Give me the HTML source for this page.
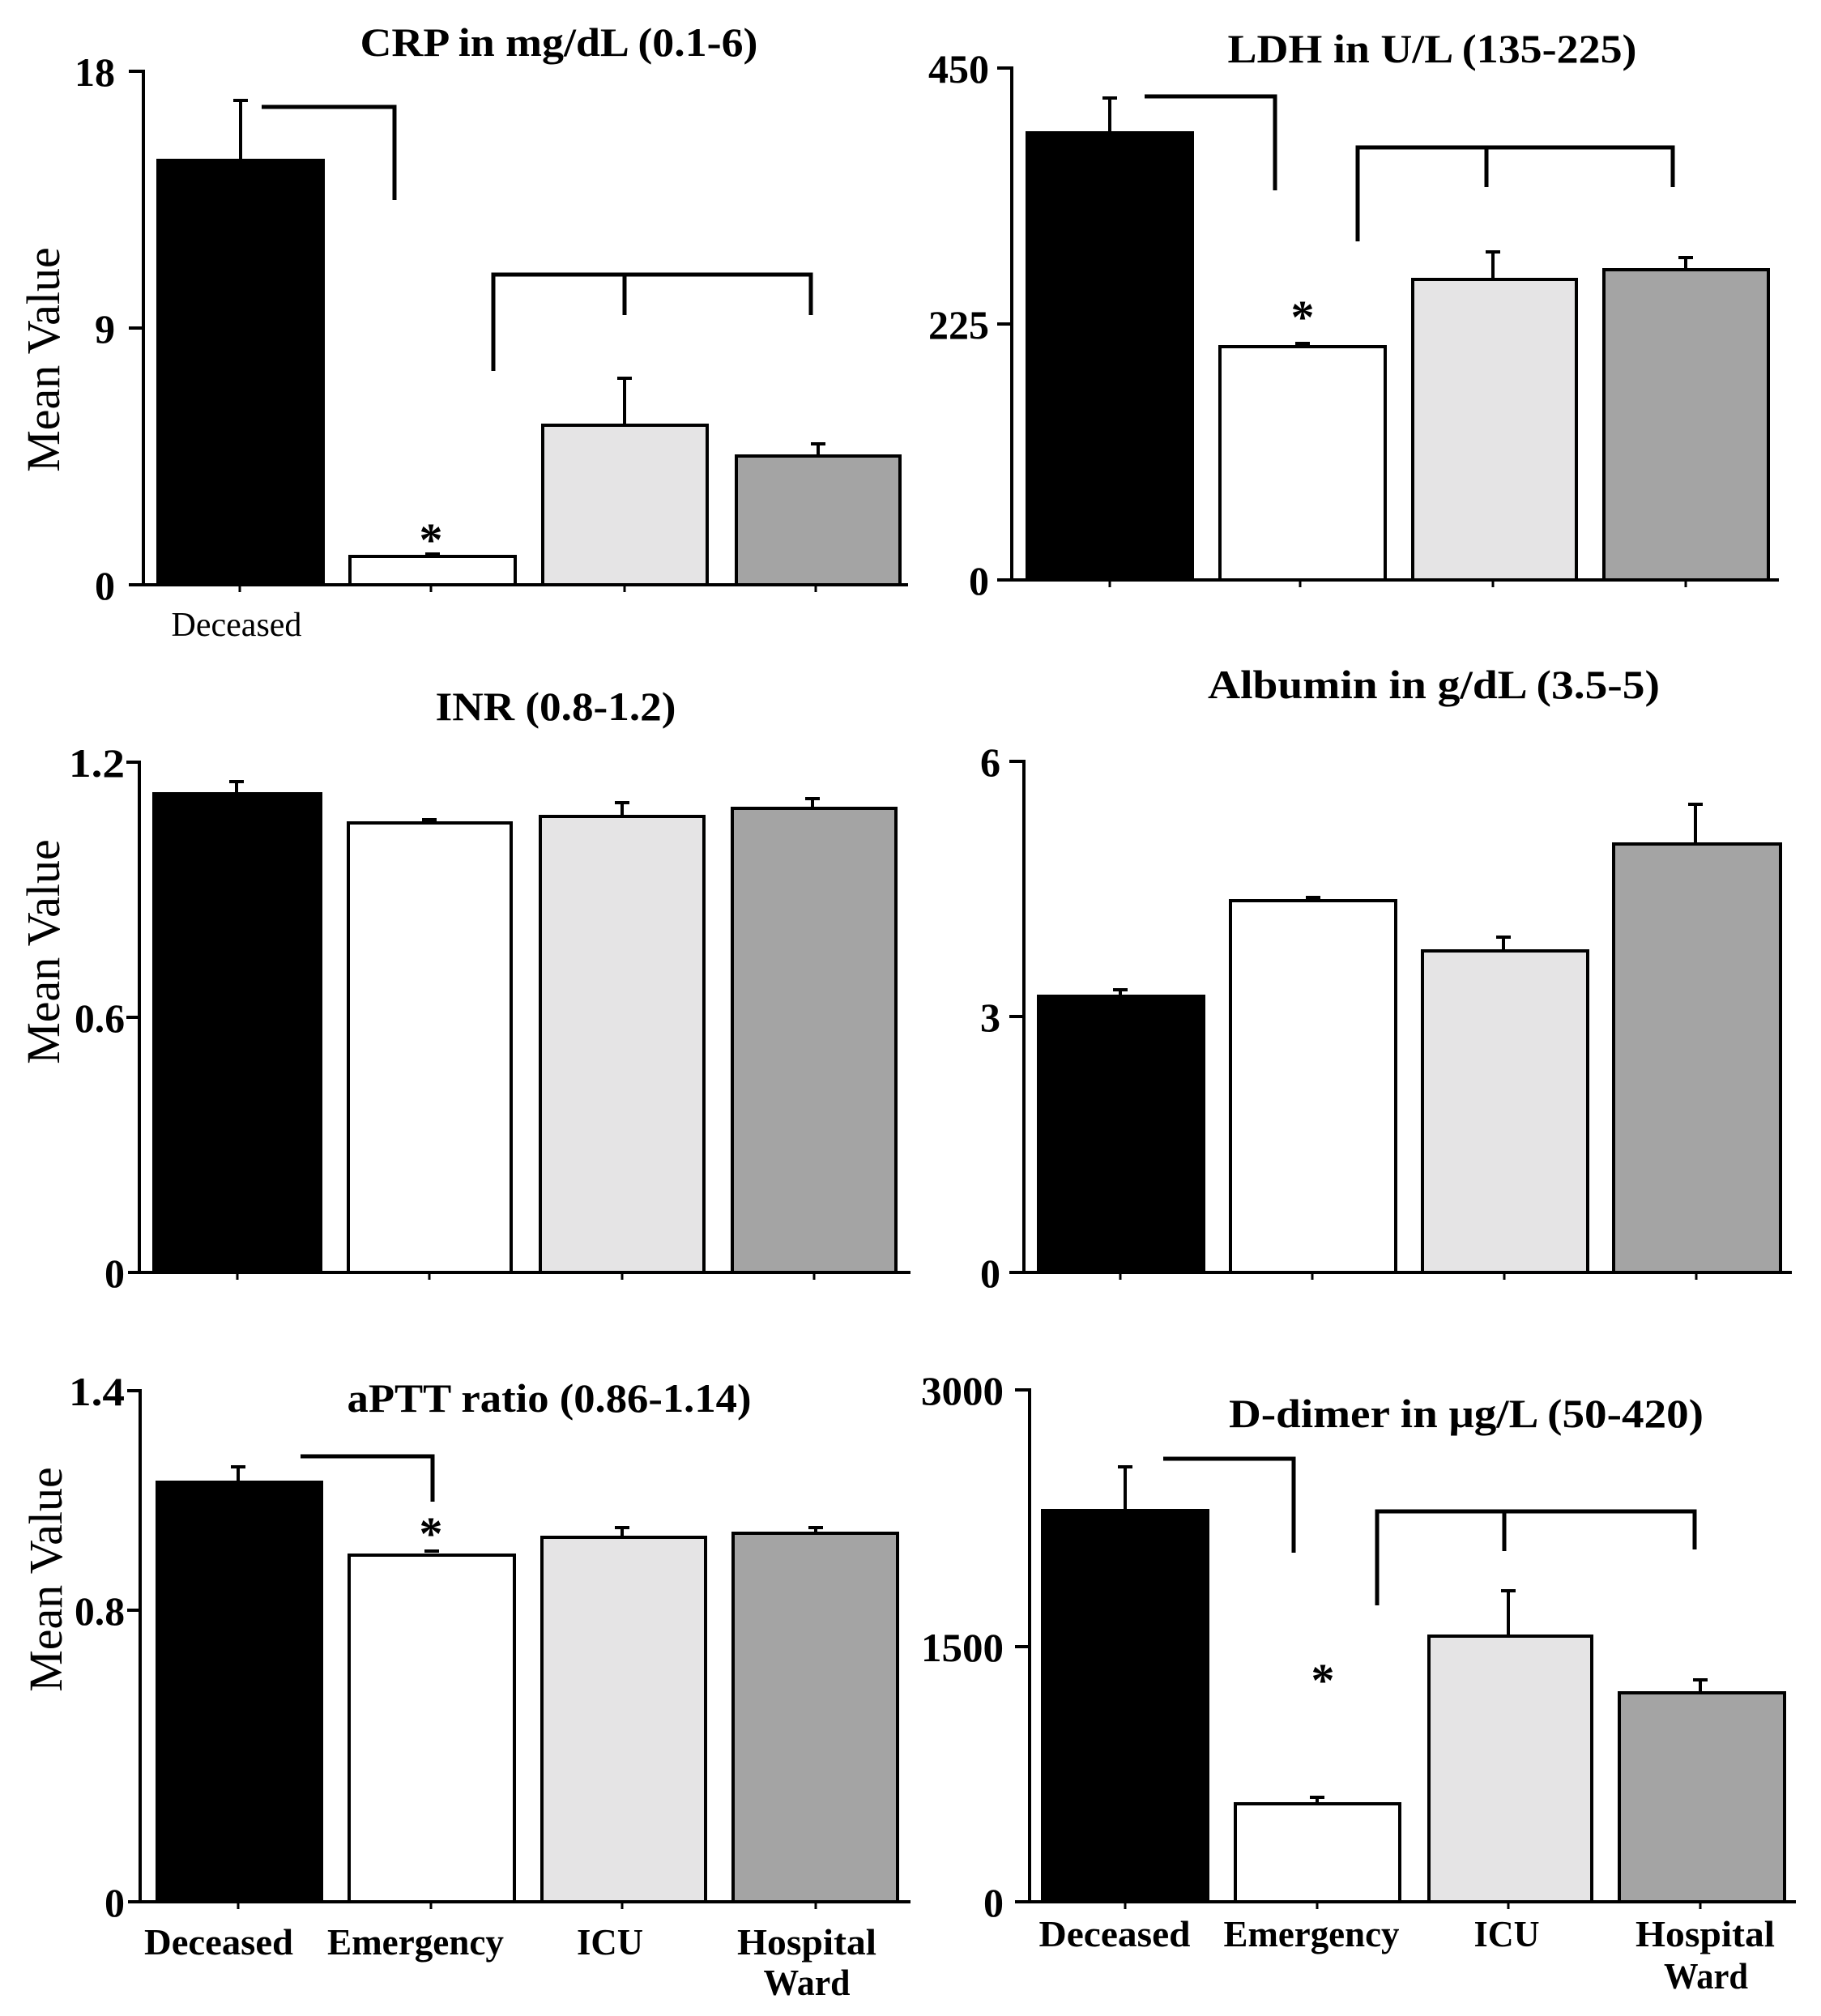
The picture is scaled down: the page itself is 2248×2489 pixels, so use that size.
<!DOCTYPE html>
<html>
<head>
<meta charset="utf-8">
<style>
html,body{margin:0;padding:0;background:#fff;}
svg{display:block;}
text{font-family:"Liberation Serif","DejaVu Serif",serif;fill:#000;}
.t{font-weight:bold;font-size:50px;}
.tk{font-weight:bold;font-size:50px;}
.xl{font-weight:bold;font-size:46px;}
.mv{font-size:58px;}
.ast{font-weight:bold;font-size:58px;}
</style>
</head>
<body>
<svg width="2248" height="2489" viewBox="0 0 2248 2489" xmlns="http://www.w3.org/2000/svg">
<rect width="2248" height="2489" fill="#fff"/>
<g stroke="#000" stroke-linecap="butt" fill="none">

<!-- ============ Panel A: CRP ============ -->
<g>
<line x1="177" y1="86" x2="177" y2="724" stroke-width="4"/>
<line x1="159" y1="88" x2="177" y2="88" stroke-width="4"/>
<line x1="159" y1="405" x2="177" y2="405" stroke-width="4"/>
<line x1="159" y1="722" x2="1121" y2="722" stroke-width="4"/>
<line x1="296" y1="722" x2="296" y2="731" stroke-width="3"/>
<line x1="532" y1="722" x2="532" y2="731" stroke-width="3"/>
<line x1="771" y1="722" x2="771" y2="731" stroke-width="3"/>
<line x1="1007" y1="722" x2="1007" y2="731" stroke-width="3"/>
<rect x="193" y="196" width="208" height="526" fill="#000" stroke="none"/>
<rect x="432" y="687" width="204" height="35" fill="#fff" stroke-width="4"/>
<rect x="670" y="525" width="203" height="197" fill="#e5e4e5" stroke-width="4"/>
<rect x="909" y="563" width="202" height="159" fill="#a4a4a4" stroke-width="4"/>
<line x1="297" y1="122" x2="297" y2="196" stroke-width="4"/>
<line x1="288" y1="124" x2="306" y2="124" stroke-width="4"/>
<line x1="525" y1="684" x2="543" y2="684" stroke-width="4"/>
<line x1="771" y1="465" x2="771" y2="523" stroke-width="4"/>
<line x1="762" y1="467" x2="780" y2="467" stroke-width="4"/>
<line x1="1010" y1="546" x2="1010" y2="561" stroke-width="4"/>
<line x1="1001" y1="548" x2="1019" y2="548" stroke-width="4"/>
<path d="M323 132 H487 V247" stroke-width="5"/>
<path d="M609 458 V339 H1001 V389 M771 339 V389" stroke-width="5"/>
</g>

<!-- ============ Panel B: LDH ============ -->
<g>
<line x1="1249" y1="82" x2="1249" y2="718" stroke-width="4"/>
<line x1="1231" y1="84" x2="1249" y2="84" stroke-width="4"/>
<line x1="1231" y1="400" x2="1249" y2="400" stroke-width="4"/>
<line x1="1231" y1="716" x2="2196" y2="716" stroke-width="4"/>
<line x1="1370" y1="716" x2="1370" y2="725" stroke-width="3"/>
<line x1="1605" y1="716" x2="1605" y2="725" stroke-width="3"/>
<line x1="1843" y1="716" x2="1843" y2="725" stroke-width="3"/>
<line x1="2081" y1="716" x2="2081" y2="725" stroke-width="3"/>
<rect x="1266" y="162" width="208" height="554" fill="#000" stroke="none"/>
<rect x="1506" y="428" width="204" height="288" fill="#fff" stroke-width="4"/>
<rect x="1744" y="345" width="202" height="371" fill="#e5e4e5" stroke-width="4"/>
<rect x="1980" y="333" width="203" height="383" fill="#a4a4a4" stroke-width="4"/>
<line x1="1370" y1="119" x2="1370" y2="162" stroke-width="4"/>
<line x1="1361" y1="121" x2="1379" y2="121" stroke-width="4"/>
<line x1="1599" y1="424" x2="1617" y2="424" stroke-width="4"/>
<line x1="1843" y1="309" x2="1843" y2="343" stroke-width="4"/>
<line x1="1834" y1="311" x2="1852" y2="311" stroke-width="4"/>
<line x1="2081" y1="316" x2="2081" y2="331" stroke-width="4"/>
<line x1="2072" y1="318" x2="2090" y2="318" stroke-width="4"/>
<path d="M1413 119 H1574 V235" stroke-width="5"/>
<path d="M1676 298 V182 H2065 V231 M1835 182 V231" stroke-width="5"/>
</g>

<!-- ============ Panel C: INR ============ -->
<g>
<line x1="172" y1="939" x2="172" y2="1573" stroke-width="4"/>
<line x1="156" y1="941" x2="172" y2="941" stroke-width="4"/>
<line x1="156" y1="1256" x2="172" y2="1256" stroke-width="4"/>
<line x1="158" y1="1571" x2="1124" y2="1571" stroke-width="4"/>
<line x1="293" y1="1571" x2="293" y2="1580" stroke-width="3"/>
<line x1="530" y1="1571" x2="530" y2="1580" stroke-width="3"/>
<line x1="768" y1="1571" x2="768" y2="1580" stroke-width="3"/>
<line x1="1005" y1="1571" x2="1005" y2="1580" stroke-width="3"/>
<rect x="188" y="978" width="210" height="593" fill="#000" stroke="none"/>
<rect x="430" y="1016" width="201" height="555" fill="#fff" stroke-width="4"/>
<rect x="667" y="1008" width="202" height="563" fill="#e5e4e5" stroke-width="4"/>
<rect x="904" y="998" width="202" height="573" fill="#a4a4a4" stroke-width="4"/>
<line x1="292" y1="963" x2="292" y2="978" stroke-width="4"/>
<line x1="283" y1="965" x2="301" y2="965" stroke-width="4"/>
<line x1="521" y1="1012" x2="539" y2="1012" stroke-width="4"/>
<line x1="768" y1="989" x2="768" y2="1006" stroke-width="4"/>
<line x1="759" y1="991" x2="777" y2="991" stroke-width="4"/>
<line x1="1003" y1="984" x2="1003" y2="996" stroke-width="4"/>
<line x1="994" y1="986" x2="1012" y2="986" stroke-width="4"/>
</g>

<!-- ============ Panel D: Albumin ============ -->
<g>
<line x1="1264" y1="938" x2="1264" y2="1573" stroke-width="4"/>
<line x1="1246" y1="940" x2="1264" y2="940" stroke-width="4"/>
<line x1="1246" y1="1255" x2="1264" y2="1255" stroke-width="4"/>
<line x1="1246" y1="1571" x2="2212" y2="1571" stroke-width="4"/>
<line x1="1383" y1="1571" x2="1383" y2="1580" stroke-width="3"/>
<line x1="1620" y1="1571" x2="1620" y2="1580" stroke-width="3"/>
<line x1="1857" y1="1571" x2="1857" y2="1580" stroke-width="3"/>
<line x1="2094" y1="1571" x2="2094" y2="1580" stroke-width="3"/>
<rect x="1280" y="1228" width="208" height="343" fill="#000" stroke="none"/>
<rect x="1519" y="1112" width="204" height="459" fill="#fff" stroke-width="4"/>
<rect x="1756" y="1174" width="204" height="397" fill="#e5e4e5" stroke-width="4"/>
<rect x="1992" y="1042" width="206" height="529" fill="#a4a4a4" stroke-width="4"/>
<line x1="1383" y1="1220" x2="1383" y2="1228" stroke-width="4"/>
<line x1="1374" y1="1222" x2="1392" y2="1222" stroke-width="4"/>
<line x1="1612" y1="1108" x2="1630" y2="1108" stroke-width="4"/>
<line x1="1856" y1="1155" x2="1856" y2="1172" stroke-width="4"/>
<line x1="1847" y1="1157" x2="1865" y2="1157" stroke-width="4"/>
<line x1="2093" y1="991" x2="2093" y2="1040" stroke-width="4"/>
<line x1="2084" y1="993" x2="2102" y2="993" stroke-width="4"/>
</g>

<!-- ============ Panel E: aPTT ============ -->
<g>
<line x1="173" y1="1715" x2="173" y2="2350" stroke-width="4"/>
<line x1="157" y1="1717" x2="173" y2="1717" stroke-width="4"/>
<line x1="157" y1="1988" x2="173" y2="1988" stroke-width="4"/>
<line x1="158" y1="2348" x2="1124" y2="2348" stroke-width="4"/>
<line x1="294" y1="2348" x2="294" y2="2357" stroke-width="3"/>
<line x1="532" y1="2348" x2="532" y2="2357" stroke-width="3"/>
<line x1="768" y1="2348" x2="768" y2="2357" stroke-width="3"/>
<line x1="1007" y1="2348" x2="1007" y2="2357" stroke-width="3"/>
<rect x="192" y="1828" width="207" height="520" fill="#000" stroke="none"/>
<rect x="431" y="1920" width="204" height="428" fill="#fff" stroke-width="4"/>
<rect x="669" y="1898" width="202" height="450" fill="#e5e4e5" stroke-width="4"/>
<rect x="905" y="1893" width="203" height="455" fill="#a4a4a4" stroke-width="4"/>
<line x1="294" y1="1809" x2="294" y2="1828" stroke-width="4"/>
<line x1="285" y1="1811" x2="303" y2="1811" stroke-width="4"/>
<line x1="524" y1="1915" x2="542" y2="1915" stroke-width="4"/>
<line x1="768" y1="1884" x2="768" y2="1896" stroke-width="4"/>
<line x1="759" y1="1886" x2="777" y2="1886" stroke-width="4"/>
<line x1="1007" y1="1884" x2="1007" y2="1891" stroke-width="4"/>
<line x1="998" y1="1886" x2="1016" y2="1886" stroke-width="4"/>
<path d="M371 1798 H534 V1854" stroke-width="5"/>
</g>

<!-- ============ Panel F: D-dimer ============ -->
<g>
<line x1="1271" y1="1714" x2="1271" y2="2350" stroke-width="4"/>
<line x1="1253" y1="1716" x2="1271" y2="1716" stroke-width="4"/>
<line x1="1253" y1="2033" x2="1271" y2="2033" stroke-width="4"/>
<line x1="1253" y1="2348" x2="2217" y2="2348" stroke-width="4"/>
<line x1="1389" y1="2348" x2="1389" y2="2357" stroke-width="3"/>
<line x1="1626" y1="2348" x2="1626" y2="2357" stroke-width="3"/>
<line x1="1862" y1="2348" x2="1862" y2="2357" stroke-width="3"/>
<line x1="2099" y1="2348" x2="2099" y2="2357" stroke-width="3"/>
<rect x="1285" y="1863" width="208" height="485" fill="#000" stroke="none"/>
<rect x="1525" y="2227" width="203" height="121" fill="#fff" stroke-width="4"/>
<rect x="1764" y="2020" width="201" height="328" fill="#e5e4e5" stroke-width="4"/>
<rect x="1999" y="2090" width="204" height="258" fill="#a4a4a4" stroke-width="4"/>
<line x1="1389" y1="1809" x2="1389" y2="1863" stroke-width="4"/>
<line x1="1380" y1="1811" x2="1398" y2="1811" stroke-width="4"/>
<line x1="1626" y1="2217" x2="1626" y2="2225" stroke-width="4"/>
<line x1="1617" y1="2219" x2="1635" y2="2219" stroke-width="4"/>
<line x1="1862" y1="1962" x2="1862" y2="2018" stroke-width="4"/>
<line x1="1853" y1="1964" x2="1871" y2="1964" stroke-width="4"/>
<line x1="2099" y1="2072" x2="2099" y2="2088" stroke-width="4"/>
<line x1="2090" y1="2074" x2="2108" y2="2074" stroke-width="4"/>
<path d="M1436 1801 H1597 V1917" stroke-width="5"/>
<path d="M1700 1982 V1866 H2092 V1913 M1857 1866 V1915" stroke-width="5"/>
</g>
</g>

<!-- ============ Text ============ -->
<text class="t" x="690" y="69" text-anchor="middle" textLength="491" lengthAdjust="spacingAndGlyphs">CRP in mg/dL (0.1-6)</text>
<text class="t" x="1768" y="77" text-anchor="middle" textLength="505" lengthAdjust="spacingAndGlyphs">LDH in U/L (135-225)</text>
<text class="t" x="686" y="889" text-anchor="middle" textLength="297" lengthAdjust="spacingAndGlyphs">INR (0.8-1.2)</text>
<text class="t" x="1770" y="862" text-anchor="middle" textLength="558" lengthAdjust="spacingAndGlyphs">Albumin in g/dL (3.5-5)</text>
<text class="t" x="678" y="1743" text-anchor="middle" textLength="499" lengthAdjust="spacingAndGlyphs">aPTT ratio (0.86-1.14)</text>
<text class="t" x="1810" y="1762" text-anchor="middle" textLength="586" lengthAdjust="spacingAndGlyphs">D-dimer in μg/L (50-420)</text>

<!-- Y tick labels -->
<text class="tk" x="142" y="106" text-anchor="end">18</text>
<text class="tk" x="142" y="423" text-anchor="end">9</text>
<text class="tk" x="142" y="740" text-anchor="end">0</text>

<text class="tk" x="1221" y="102" text-anchor="end">450</text>
<text class="tk" x="1221" y="418" text-anchor="end">225</text>
<text class="tk" x="1221" y="734" text-anchor="end">0</text>

<text class="tk" x="154" y="959" text-anchor="end" textLength="69" lengthAdjust="spacingAndGlyphs">1.2</text>
<text class="tk" x="154" y="1274" text-anchor="end" textLength="62" lengthAdjust="spacingAndGlyphs">0.6</text>
<text class="tk" x="154" y="1589" text-anchor="end">0</text>

<text class="tk" x="1235" y="958" text-anchor="end">6</text>
<text class="tk" x="1235" y="1273" text-anchor="end">3</text>
<text class="tk" x="1235" y="1589" text-anchor="end">0</text>

<text class="tk" x="154" y="1735" text-anchor="end" textLength="69" lengthAdjust="spacingAndGlyphs">1.4</text>
<text class="tk" x="154" y="2006" text-anchor="end" textLength="62" lengthAdjust="spacingAndGlyphs">0.8</text>
<text class="tk" x="154" y="2366" text-anchor="end">0</text>

<text class="tk" x="1239" y="1734" text-anchor="end" textLength="102" lengthAdjust="spacingAndGlyphs">3000</text>
<text class="tk" x="1239" y="2051" text-anchor="end" textLength="102" lengthAdjust="spacingAndGlyphs">1500</text>
<text class="tk" x="1239" y="2366" text-anchor="end">0</text>

<!-- Mean Value axis titles -->
<text class="mv" transform="translate(73,444) rotate(-90)" text-anchor="middle">Mean Value</text>
<text class="mv" transform="translate(73,1175) rotate(-90)" text-anchor="middle">Mean Value</text>
<text class="mv" transform="translate(76,1950) rotate(-90)" text-anchor="middle">Mean Value</text>

<!-- small Deceased label (top-left) -->
<text x="292" y="785" text-anchor="middle" font-size="42">Deceased</text>

<!-- Asterisks -->
<text class="ast" x="532" y="686" text-anchor="middle">*</text>
<text class="ast" x="1608" y="411" text-anchor="middle">*</text>
<text class="ast" x="532" y="1913" text-anchor="middle">*</text>
<text class="ast" x="1633" y="2094" text-anchor="middle">*</text>

<!-- X labels bottom-left -->
<text class="xl" x="270" y="2413" text-anchor="middle" textLength="184" lengthAdjust="spacingAndGlyphs">Deceased</text>
<text class="xl" x="513" y="2413" text-anchor="middle" textLength="218" lengthAdjust="spacingAndGlyphs">Emergency</text>
<text class="xl" x="753" y="2413" text-anchor="middle" textLength="82" lengthAdjust="spacingAndGlyphs">ICU</text>
<text class="xl" x="996" y="2413" text-anchor="middle" textLength="172" lengthAdjust="spacingAndGlyphs">Hospital</text>
<text class="xl" x="996" y="2463" text-anchor="middle" textLength="107" lengthAdjust="spacingAndGlyphs">Ward</text>

<!-- X labels bottom-right -->
<text class="xl" x="1376" y="2403" text-anchor="middle" textLength="187" lengthAdjust="spacingAndGlyphs">Deceased</text>
<text class="xl" x="1619" y="2403" text-anchor="middle" textLength="217" lengthAdjust="spacingAndGlyphs">Emergency</text>
<text class="xl" x="1860" y="2403" text-anchor="middle" textLength="81" lengthAdjust="spacingAndGlyphs">ICU</text>
<text class="xl" x="2105" y="2403" text-anchor="middle" textLength="172" lengthAdjust="spacingAndGlyphs">Hospital</text>
<text class="xl" x="2106" y="2455" text-anchor="middle" textLength="104" lengthAdjust="spacingAndGlyphs">Ward</text>
</svg>
</body>
</html>
